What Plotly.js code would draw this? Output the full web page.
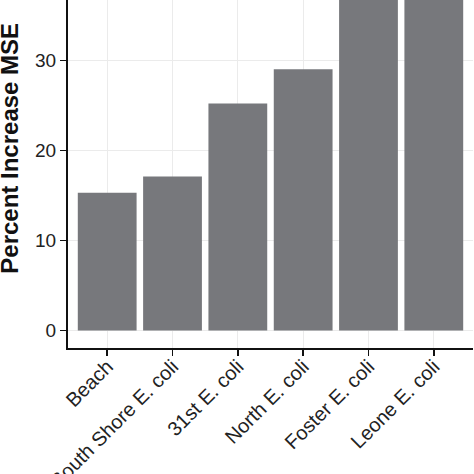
<!DOCTYPE html>
<html>
<head>
<meta charset="utf-8">
<script src="https://cdn.plot.ly/plotly-3.0.1.min.js"></script>
<style>
  html, body { margin: 0; padding: 0; background: #fff; }
  #chart { width: 474px; height: 474px; }
</style>
</head>
<body>
<div id="chart"></div>
<script>
// predictors and their importance (%IncMSE); the last two run off the top of the crop
let predictors = ["Beach", "South Shore E. coli", "31st E. coli", "North E. coli", "Foster E. coli", "Leone E. coli"];
let pct_inc_mse = [15.3, 17.1, 25.2, 29.0, 38.0, 39.0];
let y_ticks = [0, 10, 20, 30];

let bar_color = "rgb(119,120,124)";
let grid_color = "#EBEBEB";
let text_font = "Liberation Sans, Arial, sans-serif";

var data = [
    {
        type: "bar",
        x: predictors,
        y: pct_inc_mse,
        marker: { color: bar_color, line: { width: 0 } },
        hoverinfo: "x+y"
    }
];

var layout = {
    width: 474,
    height: 474,
    margin: { l: 68, r: 1, t: 0, b: 126 },
    paper_bgcolor: "#fff",
    plot_bgcolor: "#fff",
    bargap: 0.1,
    showlegend: false,
    font: { family: text_font, color: "#222", size: 16 },
    xaxis: {
        type: "category",
        range: [-0.6, 5.6],
        tickangle: -45,
        ticklabelstandoff: -9,
        showgrid: true,
        gridcolor: grid_color,
        gridwidth: 1.2,
        showline: true,
        linecolor: "#111",
        linewidth: 2,
        ticks: "outside",
        ticklen: 6,
        tickwidth: 1.5,
        tickcolor: "#111",
        tickfont: { size: 20, color: "#222" },
        zeroline: false
    },
    yaxis: {
        range: [-1.95, 36.7],
        tickvals: y_ticks,
        showgrid: true,
        gridcolor: grid_color,
        gridwidth: 1.2,
        showline: true,
        linecolor: "#111",
        linewidth: 2,
        ticks: "outside",
        ticklen: 6,
        tickwidth: 1.5,
        tickcolor: "#111",
        tickfont: { size: 19, color: "#222" },
        zeroline: false
    },
    annotations: [
        {
            text: "<b>Percent Increase MSE</b>",
            xref: "paper", yref: "paper",
            x: -0.143, y: 0.573,
            xanchor: "center", yanchor: "middle",
            textangle: -90,
            showarrow: false,
            font: { family: text_font, size: 24, color: "#111" }
        }
    ]
};

Plotly.newPlot("chart", data, layout, { displayModeBar: false, staticPlot: true });
</script>
</body>
</html>
